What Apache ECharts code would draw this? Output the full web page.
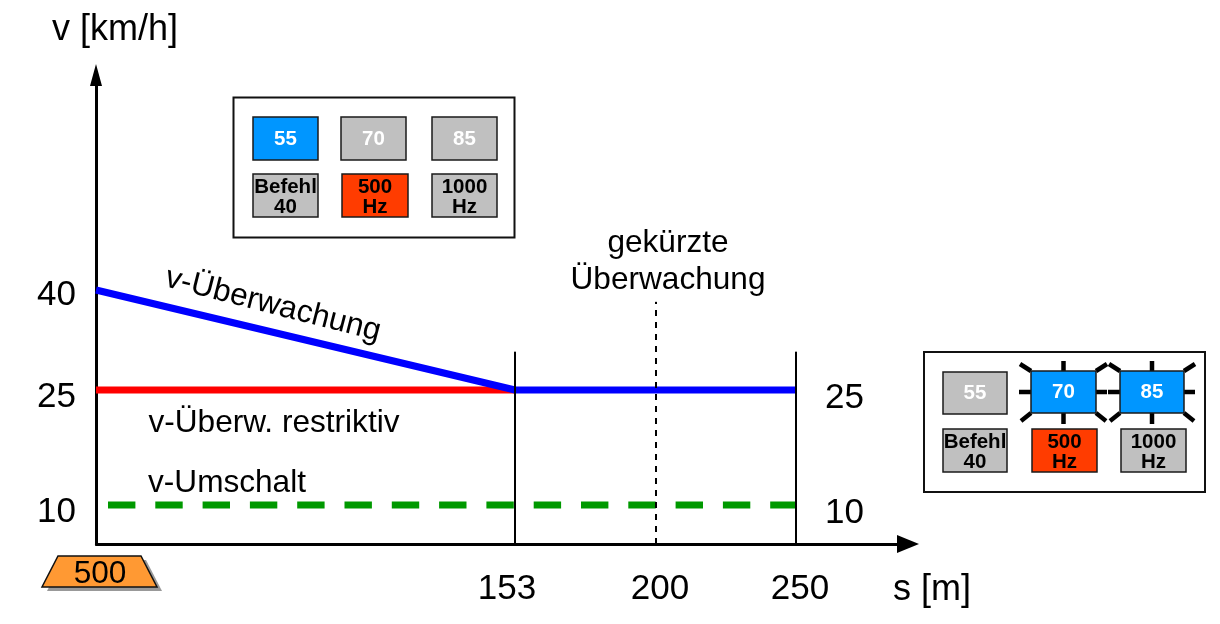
<!DOCTYPE html>
<html>
<head>
<meta charset="utf-8">
<style>html,body{margin:0;padding:0;background:#fff}#chart{width:1220px;height:624px}</style>
<script src="https://cdn.jsdelivr.net/npm/echarts@6/dist/echarts.min.js"></script>
</head>
<body>
<div id="chart"></div>
<script>
// PZB 500 Hz speed supervision after passing the 500 Hz magnet
const distanceTicks = [153, 200, 250];
const speedTicks = [10, 25, 40];
const speedTicksRight = [25, 10];
const ueberwachung = [[0, 40], [153, 25], [250, 25]];
const restriktiv = [[0, 25], [153, 25]];
const umschalt = [[4, 10], [250, 10]];
const solidMarkers = [[153, 30], [250, 30]];
const dashedMarkers = [[200, 36.5]];

const FONT = '"Liberation Sans", Arial, sans-serif';
const BLUE = '#0096ff', GREY = '#c0c0c0', RED = '#ff3c00';

// The drawing is schematic: both axes are squeezed between labelled values
const xBreaks = [{start: 20, end: 33.33, gap: 0}, {start: 220, end: 223.33, gap: 0}];
const yBreaks = [{start: 2, end: 6.92, gap: 0}, {start: 37, end: 38.96, gap: 0}];

function lamp(x, y, w, h, fill, lines, color) {
  const out = [{type: 'rect', shape: {x, y, width: w, height: h},
    style: {fill, stroke: '#1a1a1a', lineWidth: 1.5}}];
  const cx = x + w / 2, cy = y + h / 2 + (lines.includes('\n') ? 1.5 : 0.5);
  out.push({type: 'text', style: {
    x: cx, y: cy, text: lines, align: 'center', verticalAlign: 'middle',
    fill: color, font: 'bold 20.5px ' + FONT, lineHeight: 20}});
  return out;
}

function rays(x, y, w, h) {
  const cx = x + w / 2, cy = y + h / 2, r = x + w, b = y + h;
  const segs = [
    [cx, y, cx, y - 10], [cx, b, cx, b + 11], [x, cy, x - 12, cy], [r, cy, r + 11, cy],
    [x, y, x - 11, y - 7], [r, y, r + 11, y - 7], [x, b, x - 10, b + 8], [r, b, r + 10, b + 8]
  ];
  return segs.map(s => ({type: 'line', shape: {x1: s[0], y1: s[1], x2: s[2], y2: s[3]},
    style: {stroke: '#000', lineWidth: 4.5}}));
}

function panel(x, y, w, h) {
  return {type: 'rect', shape: {x, y, width: w, height: h},
    style: {fill: '#fff', stroke: '#111', lineWidth: 2}};
}

function note(x, y, text, rotation) {
  return {type: 'text', x, y, rotation: rotation || 0, style: {
    x: 0, y: 0, text, fill: '#000', font: '31.6px ' + FONT,
    align: 'center', verticalAlign: 'middle', lineHeight: 37}};
}

const graphics = [
  panel(233.5, 97.5, 281, 140),
  ...lamp(253, 117, 65, 43, BLUE, '55', '#fff'),
  ...lamp(341, 117, 65, 43, GREY, '70', '#fff'),
  ...lamp(432, 117, 65, 43, GREY, '85', '#fff'),
  ...lamp(253, 174, 65, 43, GREY, 'Befehl\n40', '#000'),
  ...lamp(342, 174, 66, 43, RED, '500\nHz', '#000'),
  ...lamp(432, 174, 65, 43, GREY, '1000\nHz', '#000'),

  panel(924, 352, 281, 140),
  ...rays(1031, 371, 65, 42),
  ...rays(1120, 371, 64, 42),
  ...lamp(943, 372, 64, 42, GREY, '55', '#fff'),
  ...lamp(1031, 371, 65, 42, BLUE, '70', '#fff'),
  ...lamp(1120, 371, 64, 42, BLUE, '85', '#fff'),
  ...lamp(943, 429, 64, 43, GREY, 'Befehl\n40', '#000'),
  ...lamp(1032, 429, 65, 43, RED, '500\nHz', '#000'),
  ...lamp(1121, 429, 65, 43, GREY, '1000\nHz', '#000'),

  note(273, 305, 'v-Überwachung', -0.25),
  note(274, 423, 'v-Überw. restriktiv'),
  note(227, 483, 'v-Umschalt'),
  note(668, 262, 'gekürzte\nÜberwachung'),

  // 500 Hz track magnet
  {type: 'polygon', shape: {points: [[63, 560], [146, 560], [162, 591], [47, 591]]},
    style: {fill: '#999'}},
  {type: 'polygon', shape: {points: [[58, 556], [141, 556], [157, 587], [42, 587]]},
    style: {fill: '#ff9933', stroke: '#111', lineWidth: 1.5}},
  {type: 'text', style: {x: 100, y: 574, text: '500', align: 'center', verticalAlign: 'middle',
    fill: '#000', font: '31.6px ' + FONT}}
];

function lineSeries(data, color, width, type, z) {
  return {type: 'line', data, showSymbol: false, silent: true, clip: false, z,
    lineStyle: {color, width, type, cap: 'butt'}};
}

function verticals(points, type) {
  return points.map(p => lineSeries([[p[0], 0], p], '#000', 2, type, 6));
}

const axisText = {color: '#000', fontFamily: FONT, fontSize: 35};
const nameText = {color: '#000', fontFamily: FONT, fontSize: 36};

const option = {
  animation: false,
  backgroundColor: '#fff',
  grid: {left: 96, top: 75, right: 312, bottom: 80, containLabel: false},
  xAxis: {
    type: 'value', min: 0, max: 287.33, breaks: xBreaks, breakArea: {show: false},
    name: 's [m]',
    nameLocation: 'end',
    nameGap: -15,
    nameTextStyle: {...nameText, align: 'left', verticalAlign: 'top', padding: [28, 0, 0, 0]},
    splitLine: {show: false},
    axisTick: {show: false},
    axisLine: {show: true, onZero: false, symbol: ['none', 'triangle'], symbolSize: [18, 22],
      lineStyle: {color: '#000', width: 3}},
    axisLabel: {
      customValues: distanceTicks, margin: 28,
      formatter: v => v === 153 ? '{l|' + v + '}' : '{r|' + v + '}',
      rich: {
        l: {...axisText, padding: [0, 16, 0, 0]},
        r: {...axisText, padding: [0, 0, 0, 8]}
      }
    }
  },
  yAxis: {
    type: 'value', min: 0, max: 68.04, breaks: yBreaks, breakArea: {show: false},
    name: 'v [km/h]',
    nameLocation: 'end',
    nameGap: 27,
    nameTextStyle: {...nameText, align: 'center', padding: [0, 0, 0, 38]},
    splitLine: {show: false},
    axisTick: {show: false},
    axisLine: {show: true, onZero: false, symbol: ['none', 'triangle'], symbolSize: [12, 22],
      lineStyle: {color: '#000', width: 3}},
    axisLabel: {
      margin: 20, customValues: speedTicks,
      formatter: v => (v === 40 ? '{hi|' : '{lo|') + v + '}',
      rich: {
        hi: {...axisText, padding: [10, 0, 0, 0]},
        lo: {...axisText, padding: [15, 0, 0, 0]}
      }
    }
  },
  series: [
    lineSeries(umschalt, '#009900', 7, [27.4, 19.9], 3),
    lineSeries(restriktiv, '#ff0000', 7, 'solid', 3),
    lineSeries(ueberwachung, '#0000ff', 7, 'solid', 4),
    ...verticals(solidMarkers, 'solid'),
    ...verticals(dashedMarkers, [6, 6]),
    {
      // Speeds repeated to the right of the last marker
      type: 'scatter', symbolSize: 0, silent: true,
      itemStyle: {opacity: 1},
      data: speedTicksRight.map(v => [250, v]),
      label: {show: true, position: 'right', distance: 29, offset: [0, 8],
        formatter: p => String(p.value[1]), ...axisText}
    }
  ],
  graphic: {elements: graphics.map(g => ({...g, z: 10}))}
};

echarts.init(document.getElementById('chart')).setOption(option);
</script>
</body>
</html>
